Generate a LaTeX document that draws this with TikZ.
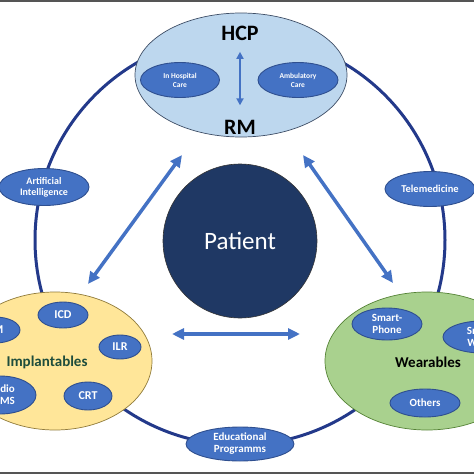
\documentclass[tikz,border=0pt]{standalone}
\usepackage{fontspec}
\setmainfont{Carlito}
\usepackage{tikz}
\usetikzlibrary{arrows.meta,shapes.geometric}

\definecolor{tagblue}{HTML}{4472C4}
\definecolor{tagedge}{HTML}{2F4F8F}
\definecolor{ringblue}{HTML}{23398A}
\definecolor{hcpfill}{HTML}{BDD7EE}
\definecolor{hcpedge}{HTML}{3E4E66}
\definecolor{patientfill}{HTML}{1F3864}
\definecolor{implfill}{HTML}{FFE699}
\definecolor{impledge}{HTML}{8F7A3A}
\definecolor{impltext}{HTML}{1E4D3C}
\definecolor{wearfill}{HTML}{A9D18E}
\definecolor{wearedge}{HTML}{548235}
\definecolor{barcolor}{HTML}{555555}

\begin{document}
\begin{tikzpicture}[
    x=1pt, y=-1pt,
    font=\bfseries,
    hub/.style={ellipse, draw, line width=0.7pt, inner sep=0pt},
    tag/.style={ellipse, draw=tagedge, line width=0.9pt, fill=tagblue, text=white, align=center, inner sep=0pt},
    twoway/.style={{Triangle[length=12pt,width=11pt]}-{Triangle[length=12pt,width=11pt]}, draw=tagblue, line width=3.5pt},
    updown/.style={{Triangle[length=7pt,width=7pt]}-{Triangle[length=7pt,width=7pt]}, draw=tagblue, line width=2pt}
]
\useasboundingbox (0,0) rectangle (474,474);
\fill[barcolor] (0,0) rectangle (474,2);
\fill[barcolor] (0,472) rectangle (474,474);

% outer ring
\node[circle, draw=ringblue, line width=3pt, minimum size=410pt, inner sep=0pt] (ring) at (240,240) {};

% HCP / RM
\node[hub, fill=hcpfill, draw=hcpedge, minimum width=212pt, minimum height=124pt] (hcp) at (241,75) {};
\node[font=\bfseries\fontsize{22}{24}\selectfont] (hcplabel) at (240,33) {HCP};
\node[font=\bfseries\fontsize{22}{24}\selectfont] (rm) at (240,127) {RM};
\node[tag, font=\bfseries\fontsize{7.5}{9}\selectfont, minimum width=79pt, minimum height=35pt] (hospital) at (180,80) {In Hospital\\Care};
\node[tag, font=\bfseries\fontsize{7.5}{9}\selectfont, minimum width=80pt, minimum height=35pt] (ambulatory) at (298,80) {Ambulatory\\Care};
\draw[updown, shorten <=8pt, shorten >=11pt] (hcplabel) -- (rm);

% patient
\node[circle, fill=patientfill, draw=black!80, line width=0.6pt, minimum size=154pt, text=white,
      font=\fontsize{25}{28}\selectfont] (patient) at (240,241) {Patient};

% ring tags
\node[tag, font=\bfseries\fontsize{10}{11}\selectfont, minimum width=90pt, minimum height=37pt] (ai) at (44,187) {Artificial\\Intelligence};
\node[tag, font=\bfseries\fontsize{10.5}{12}\selectfont, minimum width=90pt, minimum height=35pt] (tele) at (430,189) {Telemedicine};
\node[tag, font=\bfseries\fontsize{11}{12}\selectfont, minimum width=108pt, minimum height=34pt] (edu) at (240,444) {Educational\\Programms};

% implantables
\node[hub, fill=implfill, draw=impledge, minimum width=194pt, minimum height=138pt] (impl) at (55,361) {};
\node[text=impltext, font=\bfseries\fontsize{15}{17}\selectfont] (impllabel) at (47,362) {Implantables};
\node[tag, font=\bfseries\fontsize{12}{13}\selectfont, minimum width=50pt, minimum height=26pt] (pm) at (-5,330) {PM};
\node[tag, font=\bfseries\fontsize{12}{13}\selectfont, minimum width=50pt, minimum height=26pt] (icd) at (63,315) {ICD};
\node[tag, font=\bfseries\fontsize{12}{13}\selectfont, minimum width=42pt, minimum height=24pt] (ilr) at (120,347) {ILR};
\node[tag, font=\bfseries\fontsize{12}{13}\selectfont, minimum width=48pt, minimum height=28pt] (crt) at (88,396) {CRT};
\node[tag, font=\bfseries\fontsize{11}{12}\selectfont, minimum width=72pt, minimum height=38pt] (cmems) at (0,395) {Cardio\\MEMS};

% wearables
\node[hub, fill=wearfill, draw=wearedge, minimum width=204pt, minimum height=138pt] (wear) at (427,361) {};
\node[font=\bfseries\fontsize{15}{17}\selectfont] (wearlabel) at (428,362) {Wearables};
\node[tag, font=\bfseries\fontsize{11}{12}\selectfont, minimum width=70pt, minimum height=32pt] (phone) at (387,324) {Smart-\\Phone};
\node[tag, font=\bfseries\fontsize{11}{12}\selectfont, minimum width=78pt, minimum height=32pt] (watch) at (482,337) {Smart-\\Watch};
\node[tag, font=\bfseries\fontsize{11}{12}\selectfont, minimum width=70pt, minimum height=28pt] (others) at (425,403) {Others};

% links between the three groups
\coordinate (hcpimpl) at (182,155);
\coordinate (implhcp) at (88,284);
\coordinate (hcpwear) at (303,155);
\coordinate (wearhcp) at (393,283);
\coordinate (implwear) at (172,334);
\coordinate (wearimpl) at (300,334);
\draw[twoway] (hcpimpl) -- (implhcp);
\draw[twoway] (hcpwear) -- (wearhcp);
\draw[twoway] (implwear) -- (wearimpl);
\end{tikzpicture}
\end{document}
